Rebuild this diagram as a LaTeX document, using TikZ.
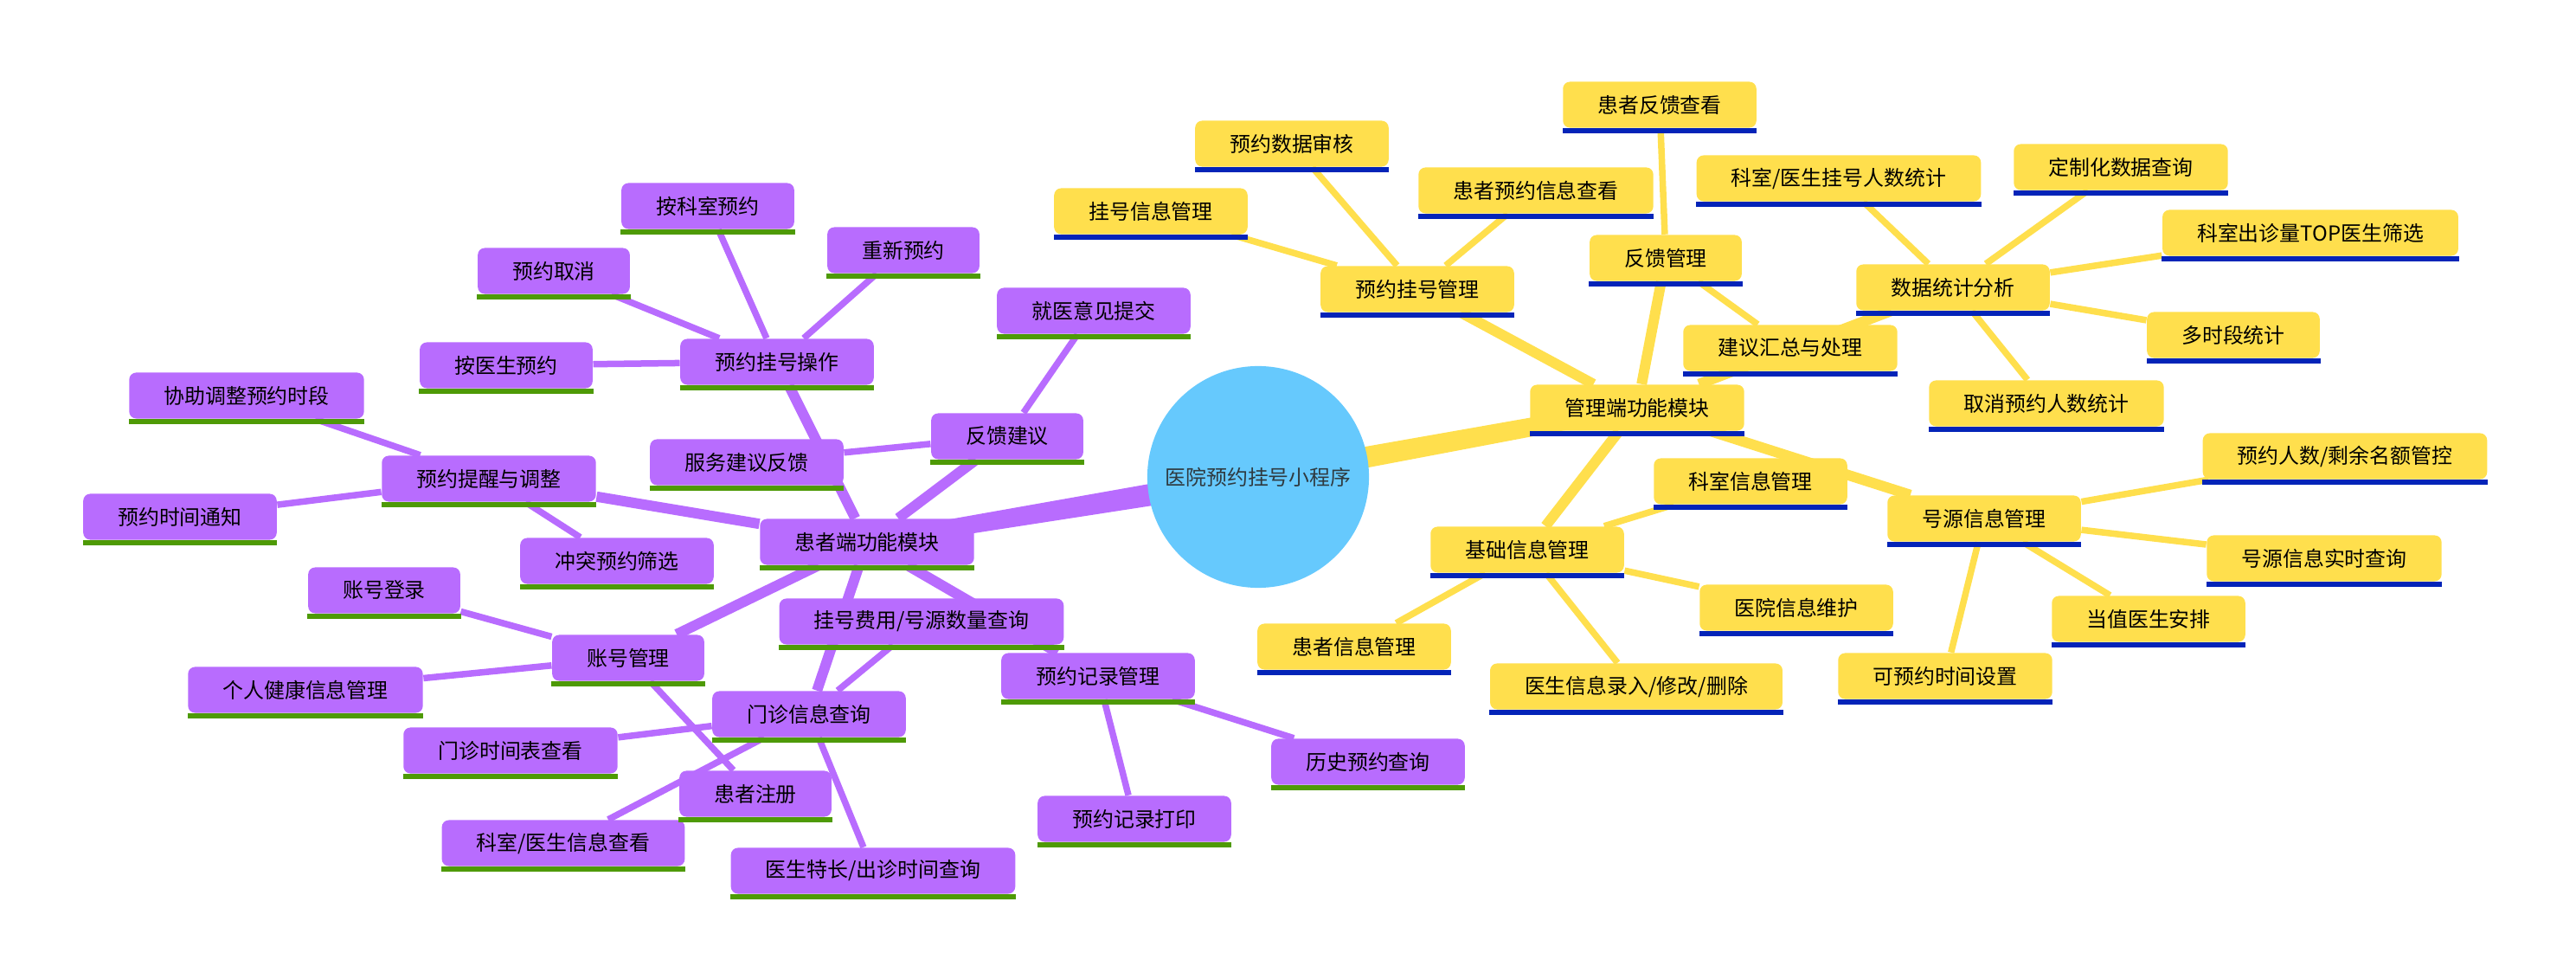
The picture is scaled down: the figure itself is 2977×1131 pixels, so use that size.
\documentclass[tikz,border=0pt]{standalone}
\usepackage{fontspec}
\newfontfamily\cjk{Noto Sans CJK SC}
\usetikzlibrary{calc,backgrounds}
\definecolor{pfill}{HTML}{B86CFE}
\definecolor{pgreen}{HTML}{4E9A06}
\definecolor{yfill}{HTML}{FFDF4D}
\definecolor{yblue}{RGB}{4,36,184}
\definecolor{rootfill}{HTML}{66C9FD}
\definecolor{roottext}{HTML}{2F3A40}

\begin{document}
\begin{tikzpicture}[
x=0.01cm, y=-0.01cm,
every node/.style={font=\cjk\fontsize{6.8pt}{8pt}\selectfont, inner xsep=0.4cm, inner ysep=0pt, minimum height=0.53cm, rounded corners=0.08cm},
pbox/.style={fill=pfill},
ybox/.style={fill=yfill},
pmain/.style={draw=pfill, line width=0.12cm},
pline/.style={draw=pfill, line width=0.075cm},
ymain/.style={draw=yfill, line width=0.12cm},
yline/.style={draw=yfill, line width=0.075cm}
]
\useasboundingbox (0,0) rectangle (2977,1131);

\node[circle, fill=rootfill, minimum size=2.56cm, inner sep=0pt, text=roottext] (root) at (1454,551) {医院预约挂号小程序};

% patient side
\node[pbox] (pm) at (1002,626) {患者端功能模块};
\node[pbox] (pbook) at (898,418) {预约挂号操作};
\node[pbox] (pdept) at (818,238) {按科室预约};
\node[pbox] (prebook) at (1044,289) {重新预约};
\node[pbox] (pcancel) at (640,313) {预约取消};
\node[pbox] (pdoc) at (585,422) {按医生预约};
\node[pbox] (pfb) at (1164,504) {反馈建议};
\node[pbox] (pfbsub) at (1264,359) {就医意见提交};
\node[pbox] (pfbsvc) at (863,534) {服务建议反馈};
\node[pbox] (premind) at (565,553) {预约提醒与调整};
\node[pbox] (padjust) at (285,457) {协助调整预约时段};
\node[pbox] (pnotify) at (208,597) {预约时间通知};
\node[pbox] (pconflict) at (713,648) {冲突预约筛选};
\node[pbox] (pacct) at (726,760) {账号管理};
\node[pbox] (plogin) at (444,682) {账号登录};
\node[pbox] (phealth) at (353,797) {个人健康信息管理};
\node[pbox] (preg) at (873,917) {患者注册};
\node[pbox] (pfee) at (1065,718) {挂号费用/号源数量查询};
\node[pbox] (pclinic) at (935,825) {门诊信息查询};
\node[pbox] (psched) at (590,867) {门诊时间表查看};
\node[pbox] (pdeptview) at (651,974) {科室/医生信息查看};
\node[pbox] (pspec) at (1009,1006) {医生特长/出诊时间查询};
\node[pbox] (prec) at (1269,781) {预约记录管理};
\node[pbox] (phist) at (1581,880) {历史预约查询};
\node[pbox] (pprint) at (1311,946) {预约记录打印};

% admin side
\node[ybox] (am) at (1892,471) {管理端功能模块};
\node[ybox] (abook) at (1638,334) {预约挂号管理};
\node[ybox] (aaudit) at (1493,166) {预约数据审核};
\node[ybox] (ainfo) at (1330,244) {挂号信息管理};
\node[ybox] (aview) at (1775,220) {患者预约信息查看};
\node[ybox] (afbview) at (1918,121) {患者反馈查看};
\node[ybox] (afb) at (1925,298) {反馈管理};
\node[ybox] (asum) at (2069,402) {建议汇总与处理};
\node[ybox] (astat) at (2257,332) {数据统计分析};
\node[ybox] (acount) at (2125,206) {科室/医生挂号人数统计};
\node[ybox] (acustom) at (2451,193) {定制化数据查询};
\node[ybox] (atop) at (2670,269) {科室出诊量TOP医生筛选};
\node[ybox] (aperiod) at (2581,387) {多时段统计};
\node[ybox] (acancel) at (2365,466) {取消预约人数统计};
\node[ybox] (abase) at (1765,635) {基础信息管理};
\node[ybox] (adept) at (2023,556) {科室信息管理};
\node[ybox] (asrc) at (2293,599) {号源信息管理};
\node[ybox] (aquota) at (2710,527) {预约人数/剩余名额管控};
\node[ybox] (areal) at (2686,645) {号源信息实时查询};
\node[ybox] (aduty) at (2483,715) {当值医生安排};
\node[ybox] (atime) at (2248,781) {可预约时间设置};
\node[ybox] (ahosp) at (2076,702) {医院信息维护};
\node[ybox] (adoc) at (1891,793) {医生信息录入/修改/删除};
\node[ybox] (apat) at (1565,747) {患者信息管理};

% underlines
\foreach \n in {pm,pbook,pdept,prebook,pcancel,pdoc,pfb,pfbsub,pfbsvc,premind,padjust,pnotify,pconflict,pacct,plogin,phealth,preg,pfee,pclinic,psched,pdeptview,pspec,prec,phist,pprint}
  \fill[pgreen] (\n.south west) rectangle ([yshift=-0.06cm]\n.south east);
\foreach \n in {am,abook,aaudit,ainfo,aview,afbview,afb,asum,astat,acount,acustom,atop,aperiod,acancel,abase,adept,asrc,aquota,areal,aduty,atime,ahosp,adoc,apat}
  \fill[yblue] (\n.south west) rectangle ([yshift=-0.06cm]\n.south east);

\begin{scope}[on background layer]
% trunks
\fill[pfill] ($(root)!0.14cm!90:(pm)$) -- ($(pm)!0.09cm!-90:(root)$) -- ($(pm)!0.09cm!90:(root)$) -- ($(root)!0.14cm!-90:(pm)$) -- cycle;
\fill[yfill] ($(root)!0.13cm!90:(am)$) -- ($(am)!0.1cm!-90:(root)$) -- ($(am)!0.1cm!90:(root)$) -- ($(root)!0.13cm!-90:(am)$) -- cycle;

\foreach \c in {pbook,pfb,premind,pacct,pclinic,prec}
  \draw[pmain] (pm) -- (\c);
\foreach \a/\b in {pbook/pdept,pbook/prebook,pbook/pcancel,pbook/pdoc,pfb/pfbsub,pfb/pfbsvc,premind/padjust,premind/pnotify,premind/pconflict,pacct/plogin,pacct/phealth,pacct/preg,pclinic/pfee,pclinic/psched,pclinic/pdeptview,pclinic/pspec,prec/phist,prec/pprint}
  \draw[pline] (\a) -- (\b);

\foreach \c in {abook,afb,astat,abase,asrc}
  \draw[ymain] (am) -- (\c);
\foreach \a/\b in {abook/aaudit,abook/ainfo,abook/aview,afb/afbview,afb/asum,astat/acount,astat/acustom,astat/atop,astat/aperiod,astat/acancel,abase/adept,abase/ahosp,abase/adoc,abase/apat,asrc/aquota,asrc/areal,asrc/aduty,asrc/atime}
  \draw[yline] (\a) -- (\b);
\end{scope}

\end{tikzpicture}
\end{document}
